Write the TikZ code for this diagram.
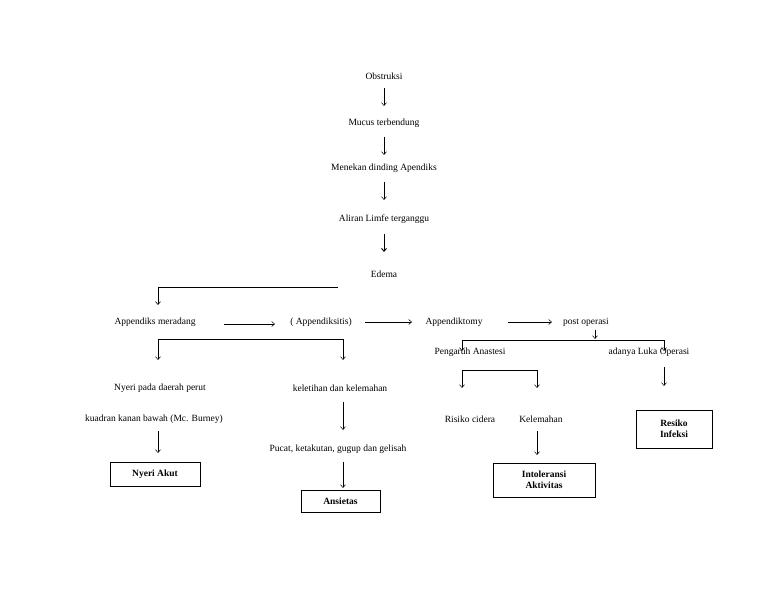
\documentclass[tikz,border=0pt]{standalone}
\usepackage{fontspec}
\setmainfont{Liberation Serif}
\usetikzlibrary{arrows.meta}
\begin{document}
\begin{tikzpicture}[x=1pt,y=-1pt,
  t/.style={inner sep=1pt,font=\fontsize{9.5}{11}\selectfont},
  bx/.style={draw,line width=0.9pt,align=center,inner sep=0pt,font=\fontsize{9.5}{11}\selectfont\bfseries},
  ar/.style={-{Straight Barb[length=3pt,width=5pt]},line width=0.5pt},
  ln/.style={line width=0.6pt}]
\useasboundingbox (0,0) rectangle (768,594);
\node[t] (ob) at (384,76) {Obstruksi};
\node[t] (mu) at (384,123) {Mucus terbendung};
\node[t] (me) at (384,168) {Menekan dinding Apendiks};
\node[t] (al) at (384,219) {Aliran Limfe terganggu};
\node[t] (ed) at (384,274) {Edema};
\draw[ar] (384,88) -- (384,106);
\draw[ar] (384,137) -- (384,155);
\draw[ar] (384,182) -- (384,200);
\draw[ar,line width=0.9pt] (384,234) -- (384,252);
\node[t] (am) at (155,322) {Appendiks meradang};
\node[t] (ap) at (321,322) {( Appendiksitis)};
\node[t] (at) at (454,322) {Appendiktomy};
\node[t] (po) at (586,322) {post operasi};
\coordinate (e1) at (338,287);
\draw[ln,-{Straight Barb[length=3pt,width=5pt]}] (e1) -- (158,287) -- (158,305);
\draw[ar] (224,324) -- (275,324);
\draw[ar] (365,322) -- (412,322);
\draw[ar] (508,322) -- (552,322);
% appendiks children
\draw[ln] (158,339) -- (343,339);
\draw[ar] (158,339) -- (158,360);
\draw[ar] (343,339) -- (343,360);
% post operasi children
\draw[ar] (595,330) -- (595,339);
\draw[ln] (462,340) -- (664,340);
\draw[ar] (462,340) -- (462,351);
\draw[ar] (664,340) -- (664,351);
\node[t] (pa) at (470,352) {Pengaruh Anastesi};
\node[t] (lu) at (649,352) {adanya Luka Operasi};
\draw[ln] (462,370) -- (537,370);
\draw[ar] (462,370) -- (462,388);
\draw[ar] (537,370) -- (537,388);
\draw[ar] (664,367) -- (664,386);
\node[t] (ny) at (160,388) {Nyeri pada daerah perut};
\node[t] (ku) at (154,419) {kuadran kanan bawah (Mc. Burney)};
\draw[ar] (158,431) -- (158,453);
\node[bx,minimum width=90pt,minimum height=24pt] (na) at (155,474) {Nyeri Akut};
\node[t] (ke) at (340,388) {keletihan dan kelemahan};
\draw[ar] (343,402) -- (343,430);
\node[t] (pu) at (338,449) {Pucat, ketakutan, gugup dan gelisah};
\draw[ar] (343,462) -- (343,488);
\node[bx,line width=0.6pt,minimum width=79pt,minimum height=22pt] (an) at (340.5,501) {Ansietas};
\node[t] (ri) at (470,419) {Risiko cidera};
\node[t] (kl) at (541,419) {Kelemahan};
\draw[ar] (537,431) -- (537,455);
\node[bx,line width=0.6pt,minimum width=102pt,minimum height=34pt] (ia) at (544,480) {Intoleransi\\Aktivitas};
\node[bx,minimum width=76pt,minimum height=38pt] (rs) at (674,429) {Resiko\\Infeksi};
\end{tikzpicture}
\end{document}
